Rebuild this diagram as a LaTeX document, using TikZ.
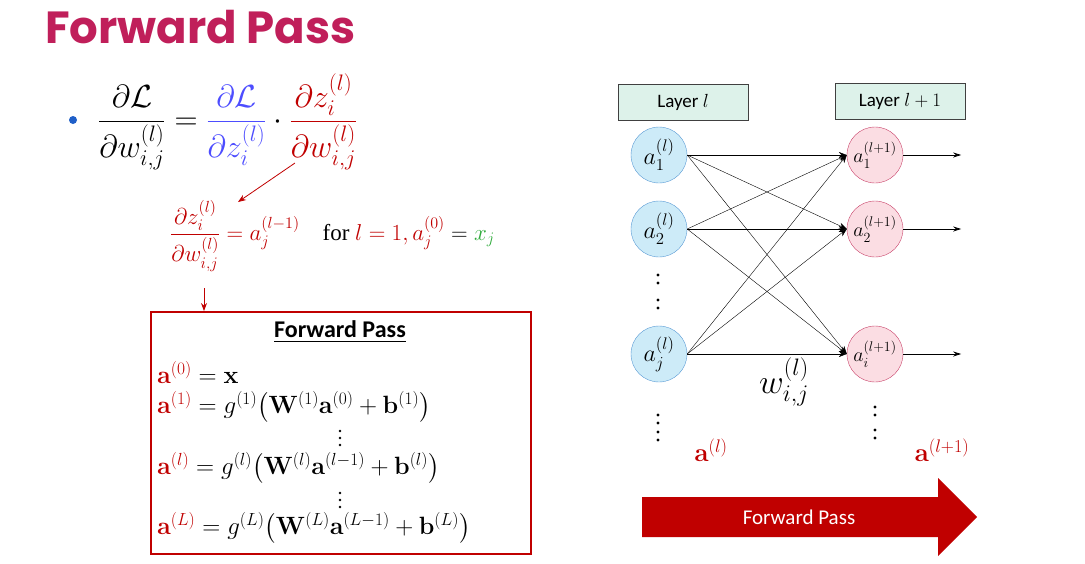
\RequirePackage{fix-cm}
\documentclass[tikz,border=0pt]{standalone}
\usepackage{amsmath}
\usepackage[no-math]{fontspec}
\setmainfont{Carlito}
\newfontfamily\titlefont{Poppins}
\newfontfamily\seriffont{Liberation Serif}
\usetikzlibrary{arrows.meta,positioning}

\definecolor{titlered}{HTML}{C01F5A}
\definecolor{darkred}{HTML}{C00000}
\definecolor{fracblue}{HTML}{4D4DFF}
\definecolor{xgreen}{HTML}{2EAA3A}
\definecolor{bulletblue}{HTML}{1F5FC8}
\definecolor{layerfill}{HTML}{DDF2EA}
\definecolor{inblue}{HTML}{CDEBF8}
\definecolor{inborder}{HTML}{5B9BD5}
\definecolor{outpink}{HTML}{FBDDE3}
\definecolor{outborder}{HTML}{C9436A}

\tikzset{
  neuronin/.style={circle, draw=inborder, fill=inblue, minimum size=56pt, inner sep=0pt, font=\fontsize{24}{26}\selectfont},
  neuronout/.style={circle, draw=outborder, fill=outpink, minimum size=56pt, inner sep=0pt, font=\fontsize{20}{22}\selectfont},
  layerbox/.style={draw=black!75, fill=layerfill, minimum width=130pt, minimum height=36pt, font=\fontsize{19}{22}\selectfont},
  weight/.style={-{Stealth[length=8pt,width=6pt]}, thin},
  outarrow/.style={-{Stealth[length=8pt,width=5pt]}, thick},
  eqline/.style={anchor=west, inner sep=0pt, font=\fontsize{25}{28}\selectfont},
  redarrow/.style={darkred, thick, -{Stealth[length=8pt,width=6pt]}},
}

\begin{document}
\begin{tikzpicture}[x=1pt, y=-1pt]
    \useasboundingbox (0,0) rectangle (1085,563);

    % title
    \node[anchor=base west, inner sep=0pt, text=titlered, font=\titlefont\bfseries\fontsize{45}{50}\selectfont] (title) at (45,43) {Forward Pass};

    % chain rule
    \fill[bulletblue] (73,120) circle (4);
    \node[anchor=west, inner sep=0pt, font=\fontsize{32}{36}\selectfont] (chain) at (98,122)
        {$\displaystyle \frac{\partial\mathcal{L}}{\partial w_{i,j}^{(l)}}
          = {\color{fracblue}\frac{\partial\mathcal{L}}{\partial z_i^{(l)}}}
          \cdot {\color{darkred}\frac{\partial z_i^{(l)}}{\partial w_{i,j}^{(l)}}}$};
    \node[anchor=west, inner sep=0pt, font=\fontsize{23}{26}\selectfont] (deriv) at (170,236)
        {$\displaystyle {\color{darkred}\frac{\partial z_i^{(l)}}{\partial w_{i,j}^{(l)}} = a_j^{(l-1)}}
          \quad \text{\seriffont for } {\color{darkred}l=1, a_j^{(0)}} = {\color{xgreen}x_j}$};
    \coordinate (c1) at (295,163);
    \coordinate (c2) at (238,202);
    \draw[redarrow] (c1) -- (c2);

    % forward pass box
    \node[draw=darkred, line width=2pt, minimum width=380pt, minimum height=242pt, anchor=north west] (box) at (150,311) {};
    \coordinate (d0) at (204,288);
    \draw[redarrow] (d0) -- (d0 |- box.north);
    \node[font=\bfseries\fontsize{24}{28}\selectfont] (fphead) at (340,332) {\underline{Forward Pass}};
    \node[eqline] (eq0) at (157,372) {${\color{darkred}\mathbf{a}^{(0)}} = \mathbf{x}$};
    \node[eqline] (eq1) at (157,407) {${\color{darkred}\mathbf{a}^{(1)}} = g^{(1)}\big(\mathbf{W}^{(1)}\mathbf{a}^{(0)} + \mathbf{b}^{(1)}\big)$};
    \node[eqline] (eql) at (157,468) {${\color{darkred}\mathbf{a}^{(l)}} = g^{(l)}\big(\mathbf{W}^{(l)}\mathbf{a}^{(l-1)} + \mathbf{b}^{(l)}\big)$};
    \node[eqline] (eqL) at (157,528) {${\color{darkred}\mathbf{a}^{(L)}} = g^{(L)}\big(\mathbf{W}^{(L)}\mathbf{a}^{(L-1)} + \mathbf{b}^{(L)}\big)$};
    \foreach \y in {431,438,445,493,500,507}
        \fill (340,\y) circle (1.3);

    % network
    \node[layerbox] (layerl) at (683,102) {Layer $l$};
    \node[layerbox] (layerl1) at (900,101) {Layer $l+1$};

    \node[neuronin] (in1) at (659,155) {$a_1^{(l)}$};
    \node[neuronin] (in2) at (659,229) {$a_2^{(l)}$};
    \node[neuronin] (inj) at (659,354) {$a_j^{(l)}$};
    \node[neuronout] (out1) at (875,155) {$a_1^{(l+1)}$};
    \node[neuronout] (out2) at (875,229) {$a_2^{(l+1)}$};
    \node[neuronout] (outi) at (875,354) {$a_i^{(l+1)}$};

    \foreach \s in {in1,in2,inj}
        \foreach \t in {out1,out2,outi}
            \draw[weight] (\s.east) -- (\t.west);
    \foreach \t in {out1,out2,outi} {
        \path (\t.east) ++(58,0) coordinate (\t-end);
        \draw[outarrow] (\t.east) -- (\t-end);
    }

    \foreach \y in {275,283,300,308,415,423,432,440}
        \fill (658,\y) circle (1.6);
    \foreach \y in {407,415,430,438}
        \fill (875,\y) circle (1.6);

    \node[font=\fontsize{34}{38}\selectfont] (wlabel) at (784,382) {$w_{i,j}^{(l)}$};
    \node[text=darkred, font=\fontsize{26}{30}\selectfont] (al) at (711,450) {$\mathbf{a}^{(l)}$};
    \node[text=darkred, font=\fontsize{26}{30}\selectfont] (al1) at (942,450) {$\mathbf{a}^{(l+1)}$};

    % big arrow
    \fill[darkred] (642,497) -- (938,497) -- (938,478) -- (977,517) -- (938,556) -- (938,537) -- (642,537) -- cycle;
    \node[text=white, font=\fontsize{21}{24}\selectfont] (fplabel) at (799,517) {Forward Pass};
\end{tikzpicture}
\end{document}
